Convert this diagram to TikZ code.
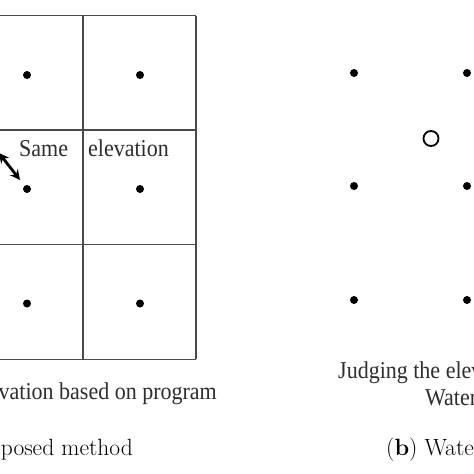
\documentclass[tikz,border=0pt]{standalone}
\usepackage{fontspec}
\usepackage{graphicx}
\setmainfont{Liberation Serif}
\newfontfamily\capfont{Latin Modern Roman}
\usetikzlibrary{arrows.meta}
\definecolor{gridgray}{HTML}{4A4A4A}
\definecolor{txtgray}{HTML}{2E2E2E}
\newcommand{\vst}[1]{\scalebox{1}[1.1]{#1}}
\begin{document}
\begin{tikzpicture}[x=1pt,y=-1pt,
  gridline/.style={draw=gridgray,line width=1.5pt},
  dotmark/.style={circle,fill=black,inner sep=0pt,minimum size=8pt},
  ring/.style={circle,draw=black,line width=1.8pt,inner sep=0pt,minimum size=15pt},
  lbl/.style={inner sep=0pt,text=txtgray,font=\fontsize{22}{26}\selectfont},
  captext/.style={inner sep=0pt,text=black,font=\capfont\fontsize{23.5}{28}\selectfont},
  dblarrow/.style={{Stealth[length=10pt,width=10pt]}-{Stealth[length=10pt,width=10pt]},line width=2.8pt,black}]
\useasboundingbox (0,0) rectangle (474,474);
\clip (0,0) rectangle (474,474);
\fill[white] (0,0) rectangle (474,474);
% grid (a)
\foreach \yy in {15.7,130,244.3,359.3}{\draw[gridline] (-40,\yy) -- (196,\yy);}
\foreach \xx in {83,196}{\draw[gridline] (\xx,15.7) -- (\xx,359.3);}
% dots (a)
\node[dotmark] (l11) at (27,75) {};
\node[dotmark] (l12) at (140,75) {};
\node[dotmark] (l21) at (27,189) {};
\node[dotmark] (l22) at (140,189) {};
\node[dotmark] (l31) at (27,303.5) {};
\node[dotmark] (l32) at (140,303.5) {};
% arrow
\coordinate (ae1) at (-1,153);
\coordinate (ae2) at (20,180);
\draw[dblarrow] (ae1) -- (ae2);
% labels (a)
\node[lbl,anchor=base west] (same) at (19,156) {\vst{Same}};
\node[lbl,anchor=base west] (elev) at (88,156) {\vst{elevation}};
\node[lbl,anchor=base east] (judgea) at (217,399) {\vst{Judging the elevation based on program}};
\node[captext,anchor=base east] (capa) at (133,455) {(\textbf{a}) Proposed method};
% dots (b)
\node[dotmark] (r11) at (354,73) {};
\node[dotmark] (r12) at (467,73) {};
\node[dotmark] (r21) at (354,186) {};
\node[dotmark] (r22) at (467,186) {};
\node[dotmark] (r31) at (354,300) {};
\node[dotmark] (r32) at (467,300) {};
\node[ring] (wl) at (431,138.5) {};
% labels (b)
\node[lbl,anchor=base west] (judgeb) at (338,378) {\vst{Judging the elevation}};
\node[lbl,anchor=base west] (water) at (425,405) {\vst{Water}};
\node[captext,anchor=base west] (capb) at (386,455) {(\textbf{b}) Water};
\end{tikzpicture}
\end{document}
